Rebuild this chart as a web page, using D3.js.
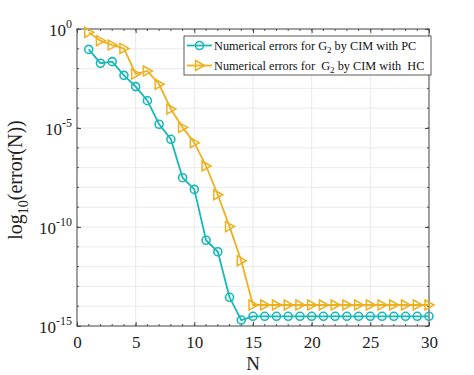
<!DOCTYPE html>
<html><head><meta charset="utf-8">
<script src="https://cdn.jsdelivr.net/npm/d3@7"></script>
<style>body{margin:0;background:#fff}svg{display:block}text{font-family:"Liberation Serif","Times New Roman",serif}</style>
</head><body><svg id="c" width="474" height="375"></svg>
<script>
const N = d3.range(1, 31);
const logPC = [-1.03,-1.73,-1.65,-2.34,-2.91,-3.62,-4.81,-5.57,-7.51,-8.10,-10.67,-11.25,-13.55,-14.70,
  -14.51,-14.51,-14.51,-14.51,-14.51,-14.51,-14.51,-14.51,-14.51,-14.51,-14.51,-14.51,-14.51,-14.51,-14.51,-14.51];
const logHC = [-0.17,-0.59,-0.81,-0.98,-2.27,-2.12,-2.79,-4.04,-4.97,-5.74,-6.92,-8.37,-9.98,-11.70,
  -13.94,-13.94,-13.94,-13.94,-13.94,-13.94,-13.94,-13.94,-13.94,-13.94,-13.94,-13.94,-13.94,-13.94,-13.94,-13.94];
const xTicks = [0,5,10,15,20,25,30];
const yTickExps = [0,-5,-10,-15];
const seriesNames = ["Numerical errors for G", "Numerical errors for  G"];
const seriesTails = [" by CIM with PC", " by CIM with  HC"];

const svg = d3.select("#c");
const L=77, R=429, T=29, B=326;
const x = d3.scaleLinear().domain([0,30]).range([L,R]);
const y = d3.scaleLog().domain([1e-15,1]).range([B,T]);
const cPC = "#17b8b8", cHC = "#edb120";
const axisCol = "#4d4d4d";

// grid
const g = svg.append("g");
d3.range(-15,1).forEach(e=>{
  g.append("line").attr("x1",L).attr("x2",R).attr("y1",y(Math.pow(10,e))).attr("y2",y(Math.pow(10,e)))
   .attr("stroke","#e6e6e6").attr("stroke-width",0.8);
});
xTicks.forEach(t=>{
  g.append("line").attr("x1",x(t)).attr("x2",x(t)).attr("y1",T).attr("y2",B).attr("stroke","#e3e3e3").attr("stroke-width",0.8);
});

// axes via d3
const xa = svg.append("g").attr("transform",`translate(0,${B})`)
  .call(d3.axisBottom(x).tickValues(xTicks).tickSize(-4).tickPadding(0).tickFormat(d3.format("d")));
const xa2 = svg.append("g").attr("transform",`translate(0,${T})`)
  .call(d3.axisTop(x).tickValues(xTicks).tickSize(-4).tickFormat(""));
[xa,xa2].forEach(a=>{a.select(".domain").remove();a.selectAll("line").attr("stroke",axisCol);});
xa.selectAll("text").attr("font-size",17).attr("fill","#222").attr("font-family","Liberation Serif")
  .attr("dy",null).attr("y",22);

const ya = svg.append("g").attr("transform",`translate(${L},0)`)
  .call(d3.axisLeft(y).tickValues(yTickExps.map(e=>Math.pow(10,e))).tickSize(-4).tickFormat(""));
const ya2 = svg.append("g").attr("transform",`translate(${R},0)`)
  .call(d3.axisRight(y).tickValues(yTickExps.map(e=>Math.pow(10,e))).tickSize(-4).tickFormat(""));
[ya,ya2].forEach(a=>{a.select(".domain").remove();a.selectAll("line").attr("stroke",axisCol);});
// minor ticks
d3.range(-15,1).forEach(e=>{
  [L,R].forEach((px,i)=>svg.append("line").attr("x1",px).attr("x2",i?px-2:px+2)
    .attr("y1",y(Math.pow(10,e))).attr("y2",y(Math.pow(10,e))).attr("stroke",axisCol));
});
d3.range(0,31).forEach(t=>{
  [B,T].forEach((py,i)=>svg.append("line").attr("x1",x(t)).attr("x2",x(t))
    .attr("y1",py).attr("y2",i?py+2:py-2).attr("stroke",axisCol));
});
// y tick labels
yTickExps.forEach(e=>{
  const t = svg.append("text").attr("x",L-5).attr("y",y(Math.pow(10,e))+7).attr("text-anchor","end")
    .attr("font-size",17).attr("fill","#222");
  t.append("tspan").text("10");
  t.append("tspan").attr("dy",-8).attr("font-size",12).text(String(e));
});
svg.append("rect").attr("x",L).attr("y",T).attr("width",R-L).attr("height",B-T)
  .attr("fill","none").attr("stroke",axisCol).attr("stroke-width",1);

// lines
const line = d3.line().x((d,i)=>x(N[i])).y(d=>y(Math.pow(10,d)));
svg.append("path").datum(logPC).attr("d",line).attr("fill","none").attr("stroke",cPC).attr("stroke-width",1.8);
svg.append("path").datum(logHC).attr("d",line).attr("fill","none").attr("stroke",cHC).attr("stroke-width",1.8);
svg.selectAll(".pc").data(logPC).enter().append("circle")
  .attr("cx",(d,i)=>x(N[i])).attr("cy",d=>y(Math.pow(10,d))).attr("r",4)
  .attr("fill","none").attr("stroke",cPC).attr("stroke-width",1.6);
const tri = "M-4,-5L5,0L-4,5Z";
svg.selectAll(".hc").data(logHC).enter().append("path")
  .attr("transform",(d,i)=>`translate(${x(N[i])},${y(Math.pow(10,d))})`).attr("d",tri)
  .attr("fill","none").attr("stroke",cHC).attr("stroke-width",1.5);

// legend
const lg = svg.append("g");
lg.append("rect").attr("x",184).attr("y",36).attr("width",247).attr("height",39)
  .attr("fill","#fff").attr("stroke","#333").attr("stroke-width",0.8);
[[cPC,45.5],[cHC,65.5]].forEach(([c,yy],i)=>{
  lg.append("line").attr("x1",187).attr("x2",212).attr("y1",yy).attr("y2",yy).attr("stroke",c).attr("stroke-width",1.8);
  if(i===0) lg.append("circle").attr("cx",199.5).attr("cy",yy).attr("r",4).attr("fill","none").attr("stroke",c).attr("stroke-width",1.6);
  else lg.append("path").attr("transform",`translate(199.5,${yy})`).attr("d",tri).attr("fill","none").attr("stroke",c).attr("stroke-width",1.5);
  const t = lg.append("text").attr("x",214).attr("y",yy+4).attr("font-size",12.3).attr("fill","#111").attr("xml:space","preserve");
  t.append("tspan").text(seriesNames[i]);
  t.append("tspan").attr("dy",3).attr("font-size",9).text("2");
  t.append("tspan").attr("dy",-3).text(seriesTails[i]);
});

// axis labels
svg.append("text").attr("x",x(15)).attr("y",370).attr("text-anchor","middle").attr("font-size",19).attr("fill","#222").text("N");
const yl = svg.append("text").attr("transform","translate(22,180) rotate(-90)").attr("text-anchor","middle")
  .attr("font-size",20).attr("fill","#222");
yl.append("tspan").text("log");
yl.append("tspan").attr("dy",6).attr("font-size",14).text("10");
yl.append("tspan").attr("dy",-6).text("(error(N))");
</script></body></html>
